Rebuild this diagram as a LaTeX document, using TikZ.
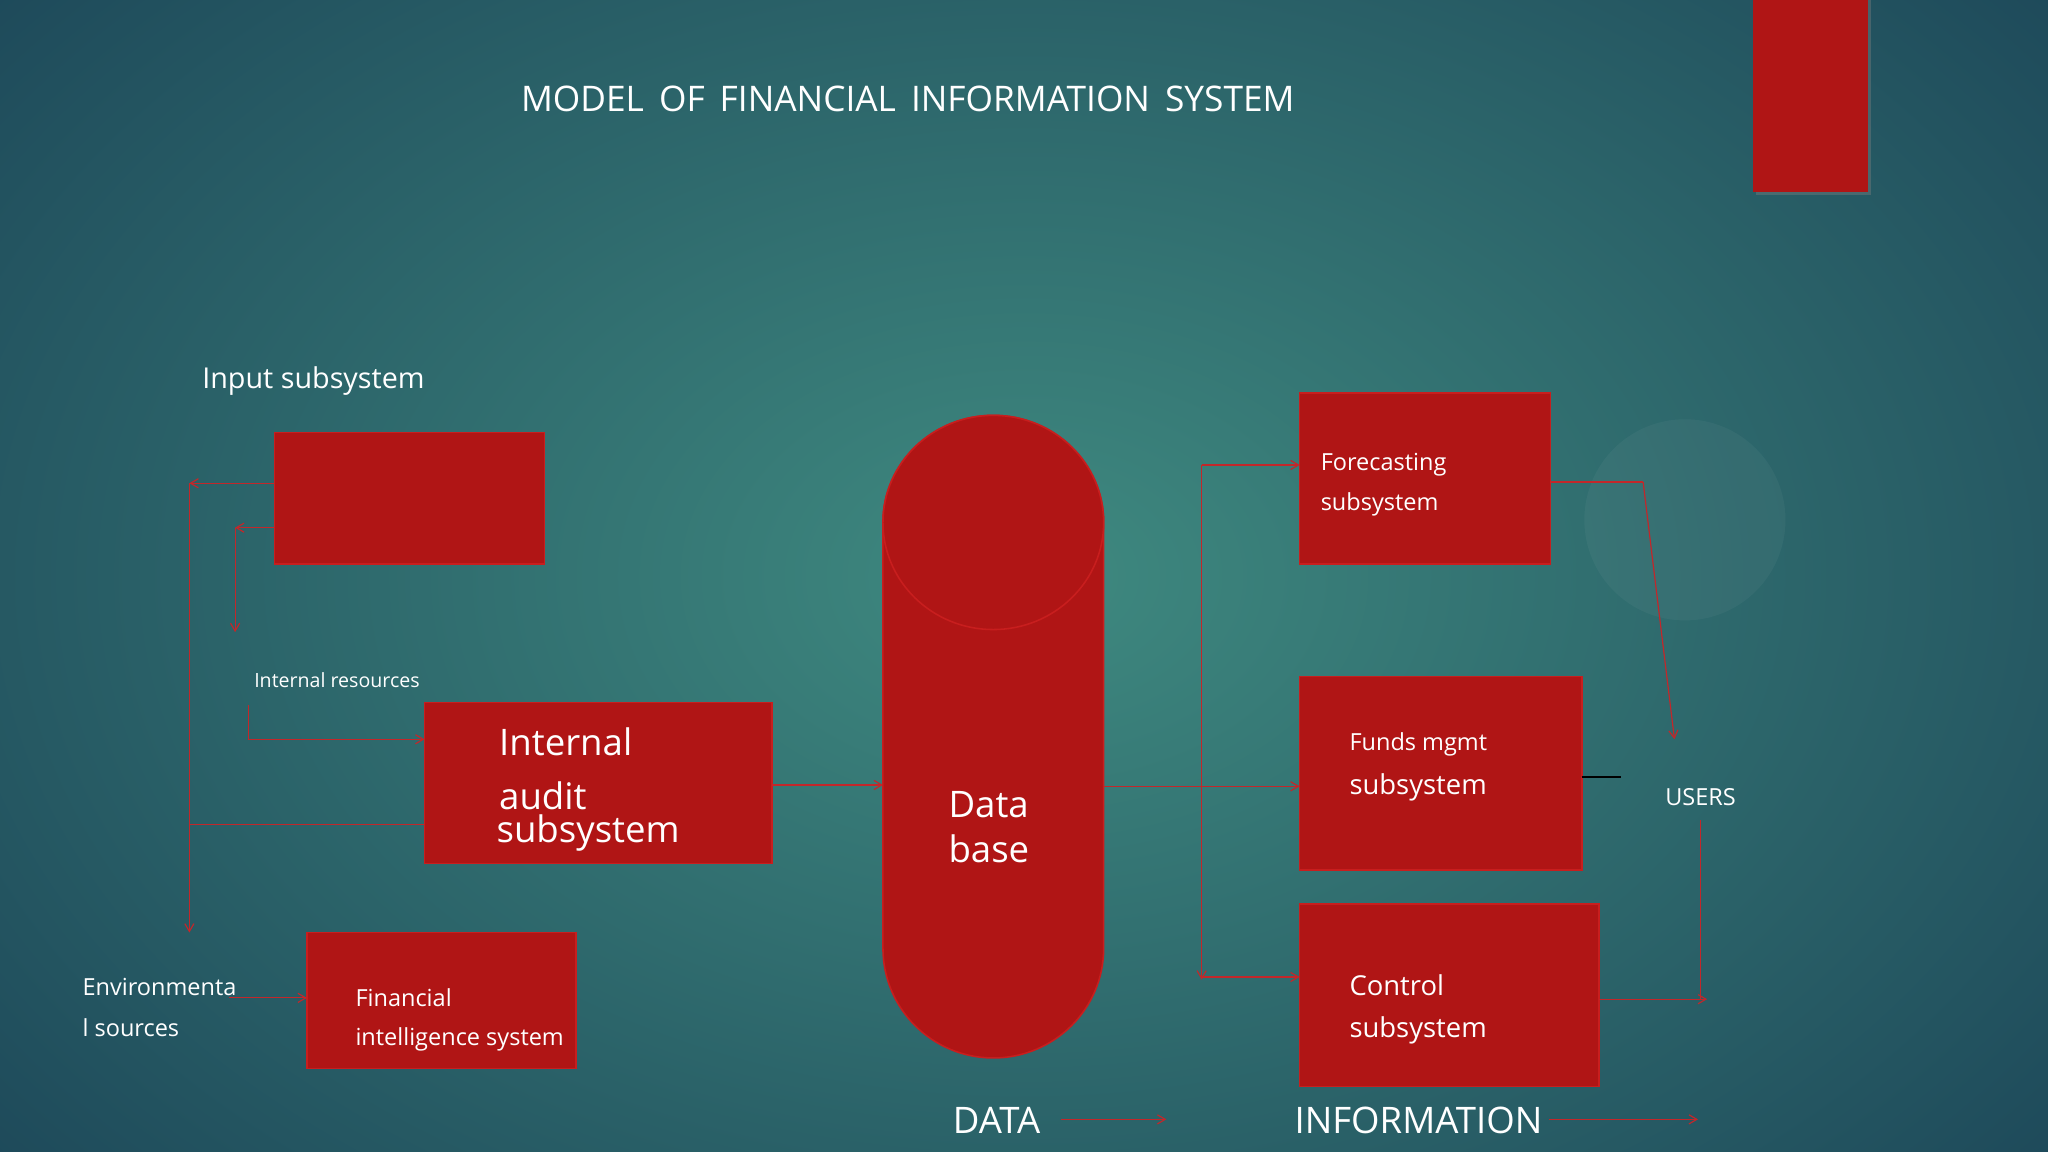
\documentclass[tikz,border=0pt]{standalone}
\usepackage{fontspec}
\setmainfont{Open Sans}
\usetikzlibrary{arrows.meta,shadows}
\definecolor{boxred}{HTML}{B01515}
\definecolor{edgered}{HTML}{C81E1E}
\definecolor{linered}{HTML}{C3272A}
\definecolor{bgin}{HTML}{3F8A80}
\definecolor{bgout}{HTML}{1C4658}
\tikzset{
 rbox/.style={fill=boxred,draw=edgered,line width=1.2pt},
 conn/.style={draw=linered,line width=0.9pt},
 arr/.style={conn,-{Straight Barb[length=6pt,width=7pt]}},
 wt/.style={text=white,inner sep=0pt,font=\fontsize{#1}{#1}\selectfont},
}
\begin{document}
\begin{tikzpicture}[x=1pt,y=-1pt]
\useasboundingbox (0,0) rectangle (1568,882);
\shade[inner color=bgin,outer color=bgout] (-300,-300) rectangle (1868,1182);
\fill[white,opacity=0.04] (1290,398) circle (77);
% title
\node[wt=27] (title) at (695,76) {MODEL\, OF\, FINANCIAL\, INFORMATION\, SYSTEM};
\fill[boxred,drop shadow={opacity=0.4}] (1342,-5) rectangle (1430,147);
% input
\node[wt=22] (inlab) at (240,292) {Input subsystem};
\draw[rbox] (210,331) rectangle (417,432);
\coordinate (inL) at (210,370); \coordinate (leftTop) at (145,370);
\draw[arr] (inL) -- (leftTop);
\coordinate (leftBot) at (145,714);
\draw[arr] (leftTop) -- (leftBot);
\coordinate (iaL) at (325,631); \coordinate (leftMid) at (145,631);
\draw[conn] (iaL) -- (leftMid);
\coordinate (inL2) at (210,404); \coordinate (s1) at (180,404); \coordinate (s2) at (180,484);
\draw[arr] (inL2) -- (s1);
\draw[arr] (s1) -- (s2);
\node[wt=15] (irlab) at (258,521) {Internal resources};
\coordinate (r1) at (190,540); \coordinate (r2) at (190,566); \coordinate (r3) at (325,566);
\draw[arr] (r1) -- (r2) -- (r3);
% internal audit
\draw[rbox] (325,538) rectangle (591,661);
\node[wt=28,anchor=west] (ia1) at (382,568) {Internal};
\node[wt=28,anchor=west] (ia2) at (382,609) {audit};
\node[wt=28,anchor=west] (ia3) at (380,638) {subsystem};
\coordinate (iaR) at (591,601); \coordinate (dbL) at (676,601);
\draw[arr] (iaR) -- (dbL);
% cylinder
\draw[rbox] (676,400) -- (676,726) arc[start angle=180,end angle=0,x radius=84.5,y radius=84] -- (845,400) arc[start angle=0,end angle=-180,x radius=84.5,y radius=82] -- cycle;
\draw[rbox] (760.5,400) ellipse[x radius=84.5,y radius=82];
\node[wt=28,anchor=west] (db1) at (726,616) {Data};
\node[wt=28,anchor=west] (db2) at (726,650) {base};
% financial intelligence
\draw[rbox] (235,714) rectangle (441,818);
\node[wt=18,anchor=west] (fi1) at (272,764) {Financial};
\node[wt=18,anchor=west] (fi2) at (272,796) {intelligence system};
\node[wt=18,anchor=west] (env1) at (63,756) {Environmenta};
\node[wt=18,anchor=west] (env2) at (63,787) {l sources};
\coordinate (e1) at (175,764); \coordinate (e2) at (235,764);
\draw[arr] (e1) -- (e2);
% right side
\coordinate (dbR) at (845,602); \coordinate (fmL) at (995,602);
\draw[arr] (dbR) -- (fmL);
\coordinate (v1) at (920,356); \coordinate (v2) at (920,750);
\coordinate (fcL) at (995,356); \coordinate (ctL) at (995,748);
\draw[arr] (v1) -- (v2);
\draw[arr] (v1) -- (fcL);
\draw[arr] (920,748) -- (ctL);
\draw[rbox] (995,301) rectangle (1187,432);
\node[wt=18,anchor=west] (fc1) at (1011,356) {Forecasting};
\node[wt=18,anchor=west] (fc2) at (1011,386) {subsystem};
\draw[rbox] (995,518) rectangle (1211,666);
\node[wt=18,anchor=west] (fm1) at (1033,570) {Funds mgmt};
\node[wt=21,anchor=west] (fm2) at (1033,603) {subsystem};
\draw[rbox] (995,692) rectangle (1224,832);
\node[wt=21,anchor=west] (ct1) at (1033,754) {Control};
\node[wt=21,anchor=west] (ct2) at (1033,789) {subsystem};
\coordinate (fcR) at (1187,369); \coordinate (u1) at (1258,369); \coordinate (u2) at (1282,566);
\draw[conn] (fcR) -- (u1);
\draw[arr] (u1) -- (u2);
\coordinate (fmR) at (1211,595); \coordinate (k1) at (1241,595);
\draw[black,line width=1pt] (fmR) -- (k1);
\node[wt=18] (users) at (1302,610) {USERS};
\coordinate (w1) at (1302,628); \coordinate (w2) at (1302,765);
\coordinate (ctR) at (1224,765); \coordinate (w3) at (1307,765);
\draw[conn] (w1) -- (w2);
\draw[arr] (ctR) -- (w3);
% bottom
\node[wt=28] (data) at (763,858) {DATA};
\coordinate (d1) at (812,857); \coordinate (d2) at (893,857);
\draw[arr] (d1) -- (d2);
\node[wt=28] (info) at (1086,858) {INFORMATION};
\coordinate (i1) at (1186,857); \coordinate (i2) at (1300,857);
\draw[arr] (i1) -- (i2);
\end{tikzpicture}
\end{document}
